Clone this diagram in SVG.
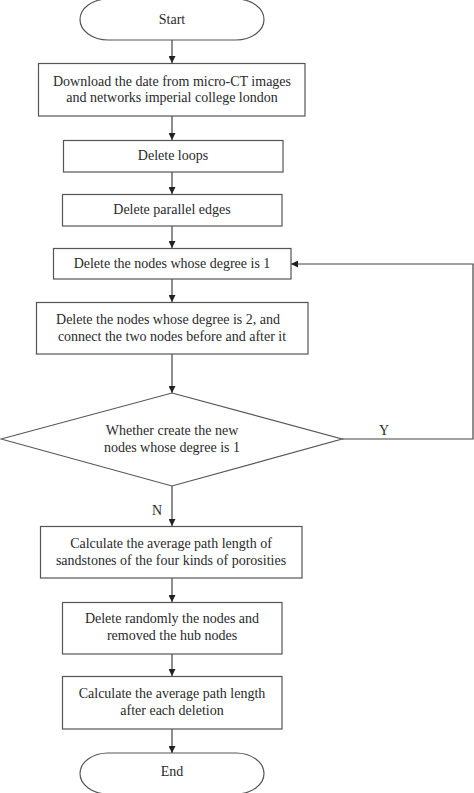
<svg xmlns="http://www.w3.org/2000/svg" width="474" height="793" viewBox="0 0 474 793">
<style>
.n{fill:#fff;stroke:#555;stroke-width:1.2}
.t{font-family:"Liberation Serif","Times New Roman",serif;font-size:14px;fill:#2a2a2a;text-anchor:middle}
.c{fill:none;stroke:#444;stroke-width:1.2}
</style>
<defs>
<marker id="a" viewBox="0 0 10 10" refX="10" refY="5" markerWidth="7" markerHeight="7" markerUnits="userSpaceOnUse" orient="auto">
<path d="M0,0L10,5L0,10z" fill="#222"/>
</marker>
</defs>
<rect width="474" height="793" fill="#fff"/>
<g id="connectors">
<line class="c" x1="172" y1="40" x2="172" y2="63" marker-end="url(#a)"/>
<line class="c" x1="172" y1="116" x2="172" y2="140" marker-end="url(#a)"/>
<line class="c" x1="172" y1="172" x2="172" y2="194" marker-end="url(#a)"/>
<line class="c" x1="172" y1="226" x2="172" y2="248" marker-end="url(#a)"/>
<line class="c" x1="172" y1="279" x2="172" y2="302" marker-end="url(#a)"/>
<line class="c" x1="172" y1="354" x2="172" y2="393" marker-end="url(#a)"/>
<polyline class="c" points="342,439 473,439 473,264 291,264" marker-end="url(#a)"/>
<line class="c" x1="172" y1="486" x2="172" y2="526" marker-end="url(#a)"/>
<line class="c" x1="172" y1="578" x2="172" y2="602" marker-end="url(#a)"/>
<line class="c" x1="172" y1="654" x2="172" y2="676" marker-end="url(#a)"/>
<line class="c" x1="172" y1="729" x2="172" y2="753" marker-end="url(#a)"/>
<text class="t" x="384" y="435">Y</text>
<text class="t" x="157" y="515">N</text>
</g>
<g id="start">
<rect class="n" x="80" y="-1" width="184" height="41" rx="28" ry="20.5"/>
<text class="t" x="172" y="24">Start</text>
</g>
<g id="download">
<rect class="n" x="38.5" y="63.5" width="266.5" height="52.5"/>
<text class="t" x="172" y="85.5">Download the date from micro-CT images</text>
<text class="t" x="172" y="102">and networks imperial college london</text>
</g>
<g id="loops">
<rect class="n" x="63.5" y="140.5" width="219.5" height="31.5"/>
<text class="t" x="173" y="160">Delete loops</text>
</g>
<g id="parallel">
<rect class="n" x="62.5" y="194.5" width="219.5" height="31.5"/>
<text class="t" x="172" y="214">Delete parallel edges</text>
</g>
<g id="deg1">
<rect class="n" x="53.5" y="248.5" width="237.5" height="30.5"/>
<text class="t" x="172" y="268">Delete the nodes whose degree is 1</text>
</g>
<g id="deg2">
<rect class="n" x="36.5" y="302.5" width="271.5" height="51.5"/>
<text class="t" x="168" y="324">Delete the nodes whose degree is 2, and</text>
<text class="t" x="172" y="341">connect the two nodes before and after it</text>
</g>
<g id="decision">
<polygon class="n" points="172,393 342,439 172,486 1,439"/>
<text class="t" x="172" y="435">Whether create the new</text>
<text class="t" x="172" y="452">nodes whose degree is 1</text>
</g>
<g id="avg">
<rect class="n" x="40.5" y="526.5" width="261.5" height="51.5"/>
<text class="t" x="171" y="548">Calculate the average path length of</text>
<text class="t" x="171" y="565">sandstones of the four kinds of porosities</text>
</g>
<g id="random">
<rect class="n" x="62.5" y="602.5" width="219.5" height="51.5"/>
<text class="t" x="172" y="623">Delete randomly the nodes and</text>
<text class="t" x="172" y="640">removed the hub nodes</text>
</g>
<g id="after">
<rect class="n" x="62.5" y="676.5" width="219.5" height="52.5"/>
<text class="t" x="172" y="698">Calculate the average path length</text>
<text class="t" x="172" y="715">after each deletion</text>
</g>
<g id="end">
<rect class="n" x="80" y="753" width="184" height="41" rx="28" ry="20.5"/>
<text class="t" x="172" y="776">End</text>
</g>
</svg>
